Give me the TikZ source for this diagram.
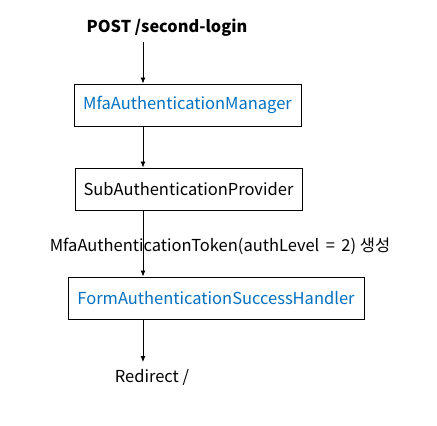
\documentclass[tikz,border=0pt]{standalone}
\usepackage{fontspec}
\setmainfont{Noto Sans CJK KR}
\usepackage{xcolor}
\usetikzlibrary{positioning}
\usetikzlibrary{arrows.meta}
\definecolor{linkblue}{RGB}{0,112,192}
\tikzset{>={Latex[width=5pt,length=6pt]}}

\begin{document}
\begin{tikzpicture}[x=1pt, y=-1pt, box/.style={rectangle, draw=black, line width=1pt, minimum height=42pt, font=\fontsize{16.5}{19}\selectfont, inner sep=0pt}, bluebox/.style={box, text=linkblue}, plain/.style={draw=none, fill=none, font=\fontsize{16.5}{19}\selectfont, inner sep=1pt}]
    \useasboundingbox (0,0) rectangle (437,426);

    %Nodes
    \node[plain, font=\fontsize{16.3}{19}\selectfont\bfseries](post) at (167,28){POST /second-login};
    \coordinate (spine) at (143,0);
    \node[bluebox, minimum width=227pt](manager) at (187.5,105){MfaAuthenticationManager};
    \node[box, minimum width=227pt](provider) at (188.5,189){SubAuthenticationProvider};
    \node[plain](token) at (220,246){MfaAuthenticationToken(authLevel \,=\, 2) 생성};
    \node[bluebox, minimum width=296pt](handler) at (216,298){FormAuthenticationSuccessHandler};
    \node[plain](redirect) at (152,377){Redirect /};
    \coordinate (post_end) at (143,42);
    \coordinate (redirect_end) at (143,362);

    %Lines
    \draw[->, line width=0.8pt] (post_end) -- (manager.north -| spine);
    \draw[->, line width=0.8pt] (manager.south -| spine) -- (provider.north -| spine);
    \draw[->, line width=0.8pt] (provider.south -| spine) -- (handler.north -| spine);
    \draw[->, line width=0.8pt] (handler.south -| spine) -- (redirect_end);

\end{tikzpicture}
\end{document}
